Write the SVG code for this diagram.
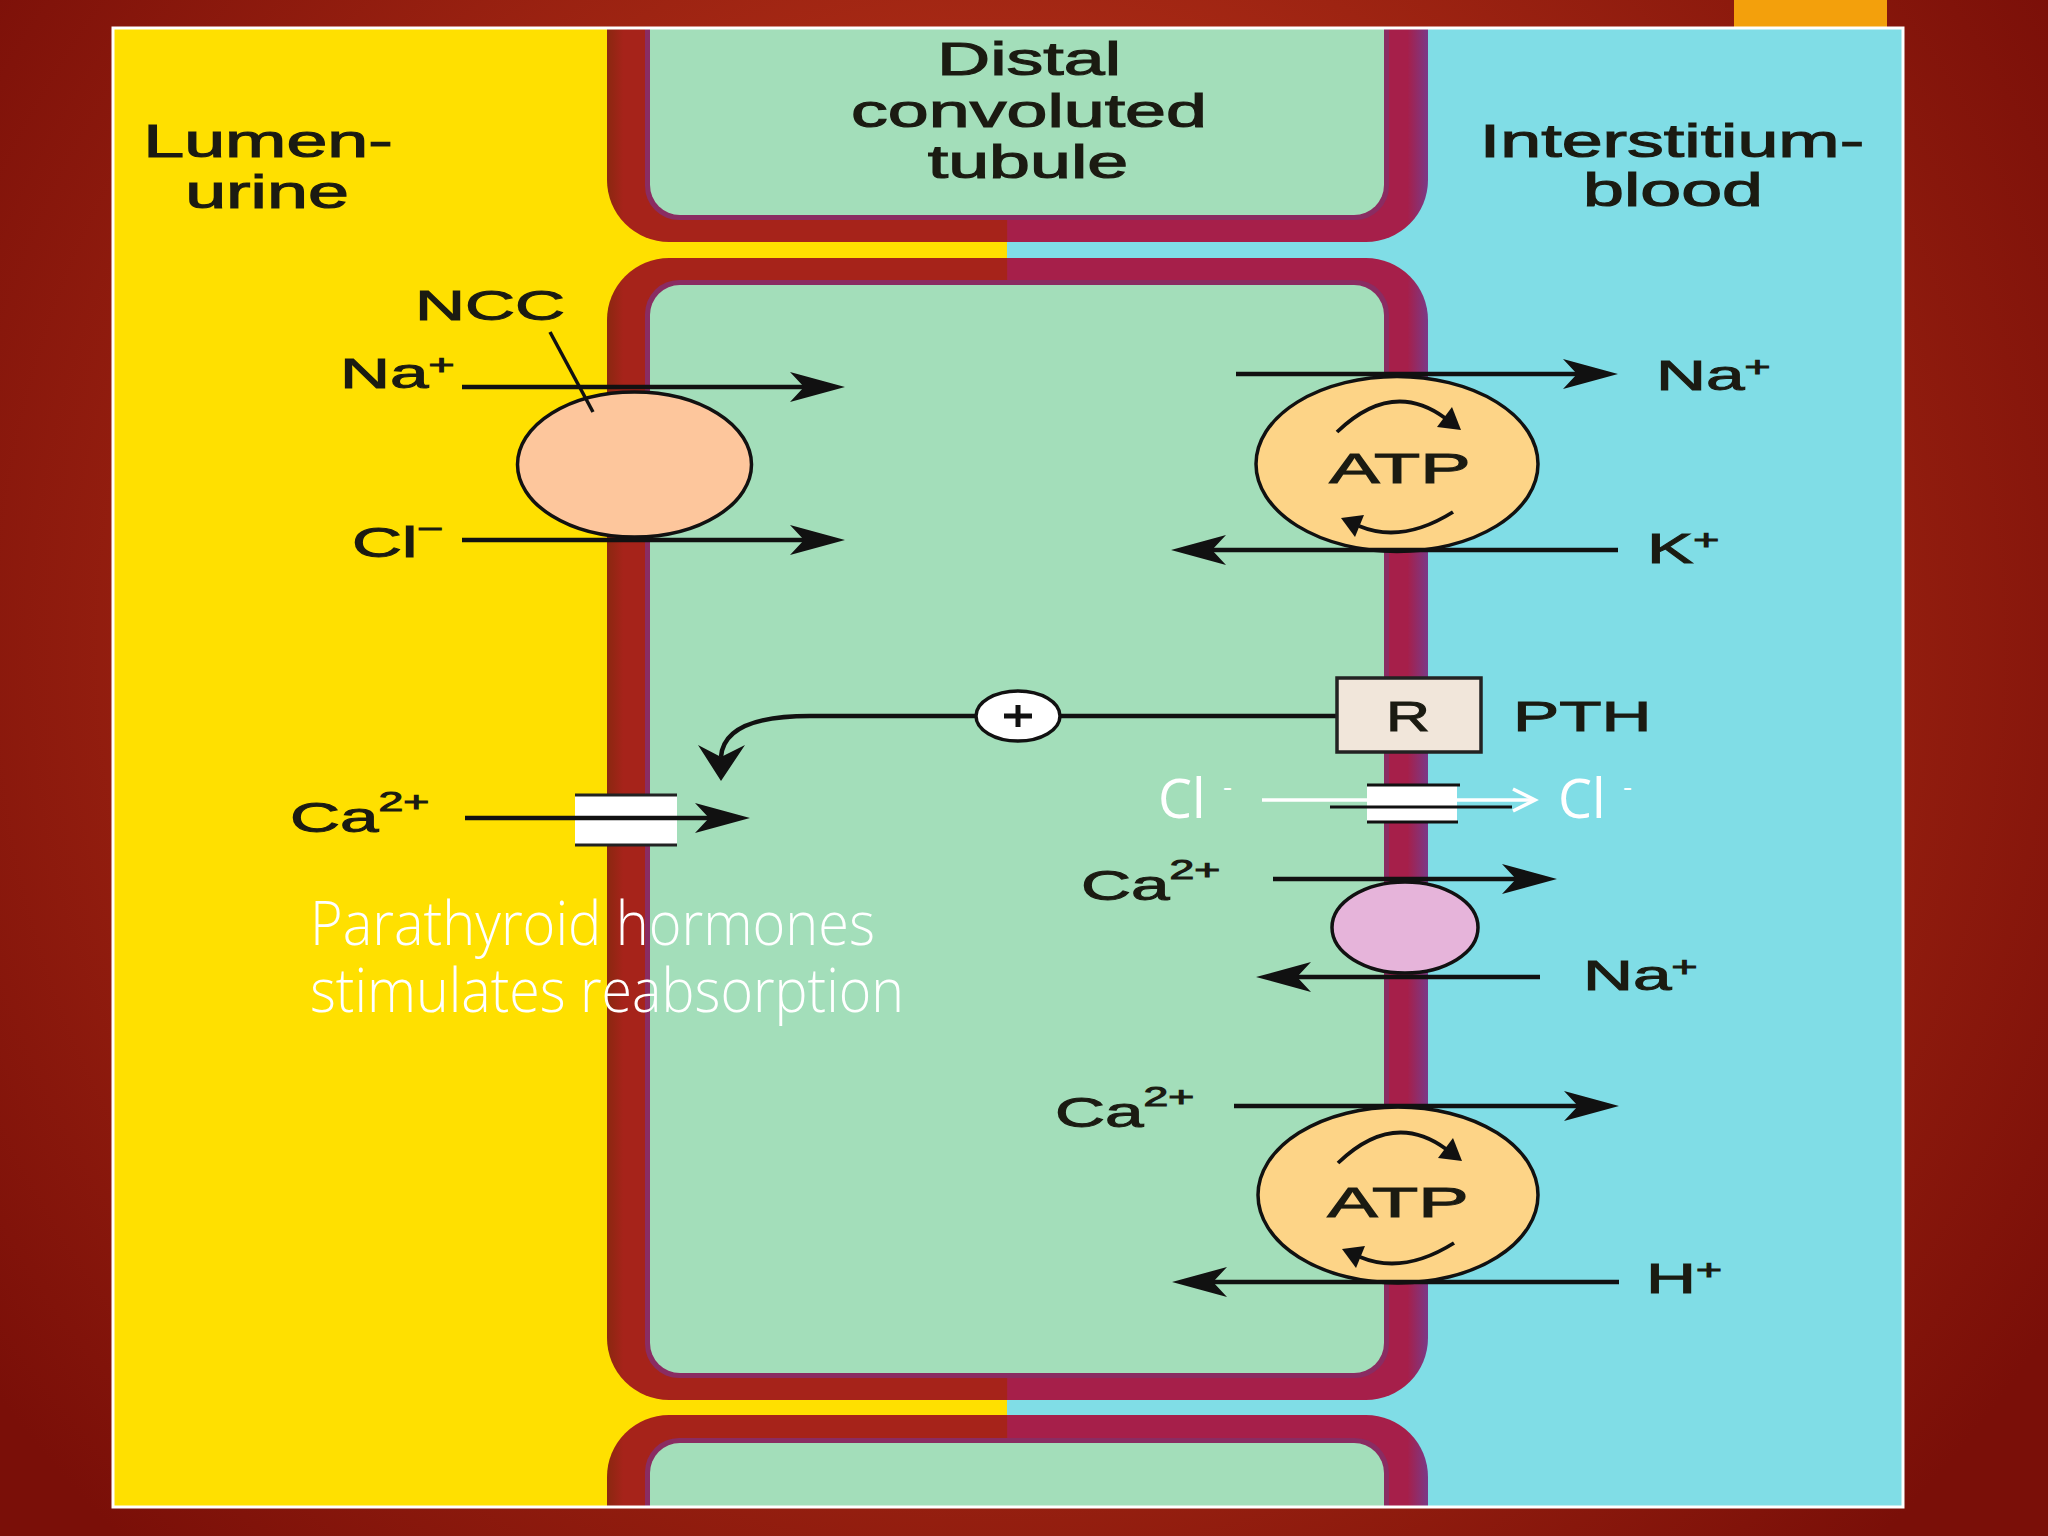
<svg xmlns="http://www.w3.org/2000/svg" width="2048" height="1536" viewBox="0 0 2048 1536">
<defs>
<style>
.lbl{font-family:"Liberation Sans",Arial,Helvetica,sans-serif;font-size:42px;fill:#1b1b12;stroke:#1b1b12;stroke-width:1}
.hdr{font-family:"Liberation Sans",Arial,Helvetica,sans-serif;font-size:46px;fill:#1b1b12;stroke:#1b1b12;stroke-width:1.1;text-anchor:middle}
.sup{font-size:27px}
.ln{stroke:#111;stroke-width:4.5;fill:none}
.ar{stroke:#111;stroke-width:4.5;fill:none;marker-end:url(#ah)}
.arc{stroke:#111;stroke-width:3.8;fill:none}
.ol{stroke:#111;stroke-width:3.5}
.wt{font-family:"Open Sans","Noto Sans",sans-serif;font-weight:300;fill:#fff}
.green{fill:#a3deba}
.mem{fill:url(#mem)}
.fringe{fill:#8a2c62}
</style>
<radialGradient id="bg" gradientUnits="userSpaceOnUse" cx="1000" cy="650" r="1250">
<stop offset="0" stop-color="#b8341b"/>
<stop offset="0.5" stop-color="#a52814"/>
<stop offset="1" stop-color="#7a0f08"/>
</radialGradient>
<linearGradient id="mem" gradientUnits="userSpaceOnUse" x1="607" y1="0" x2="1428" y2="0">
<stop offset="0" stop-color="#8a2810"/>
<stop offset="0.02" stop-color="#a6231a"/>
<stop offset="0.487" stop-color="#a6231a"/>
<stop offset="0.488" stop-color="#a61f4a"/>
<stop offset="0.975" stop-color="#a61f4a"/>
<stop offset="1" stop-color="#7a3a88"/>
</linearGradient>
<clipPath id="clipPanel"><rect x="113" y="28" width="1790" height="1479"/></clipPath>
<marker id="ah" markerUnits="userSpaceOnUse" viewBox="-60 -18 62 36" refX="-30" refY="0" markerWidth="62" markerHeight="36" orient="auto">
<path d="M0,0 L-55,-15 L-41,0 L-55,15 Z" fill="#111"/>
</marker>
<marker id="ahw" markerUnits="userSpaceOnUse" viewBox="-26 -14 30 28" refX="0" refY="0" markerWidth="30" markerHeight="28" orient="auto">
<path d="M-22,-11 L0,0 L-22,11" fill="none" stroke="#fff" stroke-width="3.5"/>
</marker>
</defs>

<rect x="0" y="0" width="2048" height="1536" fill="url(#bg)"/>
<rect x="1734" y="0" width="153" height="28" fill="#f3a00c"/>

<g id="panel" clip-path="url(#clipPanel)">
<rect x="113" y="28" width="894" height="1479" fill="#ffe000"/>
<rect x="1007" y="28" width="896" height="1479" fill="#80dde6"/>
<g id="cell-top">
<rect class="mem" x="607" y="-200" width="821" height="442" rx="62" ry="62"/>
<rect class="fringe" x="645" y="-200" width="744" height="420" rx="34" ry="34"/>
<rect class="green" x="650" y="-200" width="734" height="415" rx="30" ry="30"/>
</g>
<g id="cell-middle">
<rect class="mem" x="607" y="258" width="821" height="1142" rx="62" ry="62"/>
<rect class="fringe" x="645" y="280" width="744" height="1098" rx="34" ry="34"/>
<rect class="green" x="650" y="285" width="734" height="1088" rx="30" ry="30"/>
</g>
<g id="cell-bottom">
<rect class="mem" x="607" y="1415" width="821" height="400" rx="62" ry="62"/>
<rect class="fringe" x="645" y="1438" width="744" height="400" rx="34" ry="34"/>
<rect class="green" x="650" y="1443" width="734" height="400" rx="30" ry="30"/>
</g>
</g>
<rect x="113" y="28" width="1790" height="1479" fill="none" stroke="#fff" stroke-width="3"/>

<g id="headers">
<text class="hdr" transform="translate(1029,75) scale(1.6,1)">Distal</text>
<text class="hdr" transform="translate(1029,127) scale(1.6,1)">convoluted</text>
<text class="hdr" transform="translate(1028,178) scale(1.6,1)">tubule</text>
<text class="hdr" transform="translate(268,157) scale(1.6,1)">Lumen-</text>
<text class="hdr" transform="translate(267,208) scale(1.6,1)">urine</text>
<text class="hdr" transform="translate(1672,157) scale(1.6,1)">Interstitium-</text>
<text class="hdr" transform="translate(1673,206) scale(1.6,1)">blood</text>
</g>

<g id="ncc">
<ellipse cx="634.5" cy="464.5" rx="117" ry="72.5" fill="#fdc69c" class="ol"/>
<text class="lbl" transform="translate(415,320) scale(1.65,1)">NCC</text>
</g>

<g id="nak-atpase" transform="translate(1397,464)">
<ellipse cx="0" cy="0" rx="141" ry="87.5" fill="#fdd487" class="ol"/>
<path class="arc" d="M-60,-32 Q-5,-85 48,-46"/>
<polygon points="64,-34 40,-37 55,-57" fill="#111"/>
<path class="arc" d="M56,48 Q5,80 -38,62"/>
<polygon points="-56,54 -33,51 -42,73" fill="#111"/>
<text class="lbl" font-size="40" text-anchor="middle" transform="translate(3,19) scale(1.8,1)">ATP</text>
</g>

<g id="ca-atpase" transform="translate(1398,1195)">
<ellipse cx="0" cy="0" rx="140" ry="88" fill="#fdd487" class="ol"/>
<path class="arc" d="M-60,-32 Q-5,-85 48,-46"/>
<polygon points="64,-34 40,-37 55,-57" fill="#111"/>
<path class="arc" d="M56,48 Q5,80 -38,62"/>
<polygon points="-56,54 -33,51 -42,73" fill="#111"/>
<text class="lbl" font-size="40" text-anchor="middle" transform="translate(0,22) scale(1.8,1)">ATP</text>
</g>

<g id="ncx">
<ellipse cx="1405" cy="927.5" rx="73" ry="45.5" fill="#e6b4da" class="ol"/>
</g>

<g id="ca-channel-apical">
<rect x="575" y="795" width="102" height="50" fill="#fff"/>
<line x1="575" y1="795" x2="677" y2="795" stroke="#222" stroke-width="3"/>
<line x1="575" y1="845" x2="677" y2="845" stroke="#222" stroke-width="3"/>
</g>

<g id="cl-channel-basolateral">
<rect x="1367" y="785" width="90" height="37" fill="#fff"/>
<line x1="1367" y1="785" x2="1460" y2="785" stroke="#111" stroke-width="3"/>
<line x1="1367" y1="822" x2="1458" y2="822" stroke="#111" stroke-width="3"/>
</g>

<g id="connectors">
<line class="ln" x1="550" y1="332" x2="593" y2="412" style="stroke-width:3.5"/>
<line class="ar" x1="462" y1="387" x2="815" y2="387"/>
<line class="ar" x1="462" y1="540" x2="815" y2="540"/>
<line class="ar" x1="1236" y1="374" x2="1588" y2="374"/>
<line class="ar" x1="1618" y1="550" x2="1201" y2="550"/>
<line class="ar" x1="465" y1="818" x2="720" y2="818"/>
<line class="ar" x1="1273" y1="879" x2="1527" y2="879"/>
<line class="ar" x1="1540" y1="977" x2="1286" y2="977"/>
<line class="ar" x1="1234" y1="1106" x2="1589" y2="1106"/>
<line class="ar" x1="1619" y1="1282" x2="1202" y2="1282"/>
<path class="ln" d="M1340,716 H810 Q724,716 721,757"/>
<path d="M721,781 L698,745 L721,757 L745,745 Z" fill="#111"/>
<line x1="1330" y1="807" x2="1512" y2="807" stroke="#111" stroke-width="3"/>
<line x1="1262" y1="800" x2="1535" y2="800" stroke="#fff" stroke-width="3.5" marker-end="url(#ahw)"/>
</g>

<g id="plus">
<ellipse cx="1018" cy="716" rx="42" ry="25" fill="#fff" class="ol"/>
<line x1="1004" y1="716" x2="1032" y2="716" stroke="#111" stroke-width="5"/>
<line x1="1018" y1="705" x2="1018" y2="727" stroke="#111" stroke-width="5"/>
</g>

<g id="receptor">
<rect x="1337" y="678" width="144" height="74" fill="#f1e6da" stroke="#222" stroke-width="3.5"/>
<text class="lbl" text-anchor="middle" transform="translate(1408,731) scale(1.45,1)">R</text>
</g>

<g id="labels">
<text class="lbl" transform="translate(340,388) scale(1.65,1)">Na<tspan class="sup" dy="-14">+</tspan></text>
<text class="lbl" transform="translate(352,557) scale(1.65,1)">Cl<tspan class="sup" dy="-19">−</tspan></text>
<text class="lbl" transform="translate(290,832) scale(1.65,1)">Ca<tspan class="sup" dy="-21">2+</tspan></text>
<text class="lbl" transform="translate(1656,390) scale(1.65,1)">Na<tspan class="sup" dy="-14">+</tspan></text>
<text class="lbl" transform="translate(1647,563) scale(1.65,1)">K<tspan class="sup" dy="-14">+</tspan></text>
<text class="lbl" transform="translate(1513,731) scale(1.65,1)">PTH</text>
<text class="lbl" transform="translate(1081,900) scale(1.65,1)">Ca<tspan class="sup" dy="-21">2+</tspan></text>
<text class="lbl" transform="translate(1583,990) scale(1.65,1)">Na<tspan class="sup" dy="-14">+</tspan></text>
<text class="lbl" transform="translate(1055,1127) scale(1.65,1)">Ca<tspan class="sup" dy="-21">2+</tspan></text>
<text class="lbl" transform="translate(1646,1293) scale(1.65,1)">H<tspan class="sup" dy="-14">+</tspan></text>
</g>

<g id="overlay-text">
<text class="wt" x="1158" y="818" font-size="54" style="font-weight:400">Cl<tspan font-size="28" dx="10" dy="-22"> -</tspan></text>
<text class="wt" x="1558" y="818" font-size="54" style="font-weight:400">Cl<tspan font-size="28" dx="10" dy="-22"> -</tspan></text>
<text class="wt" x="310" y="945" font-size="60" textLength="565" lengthAdjust="spacingAndGlyphs">Parathyroid hormones</text>
<text class="wt" x="310" y="1012" font-size="60" textLength="594" lengthAdjust="spacingAndGlyphs">stimulates reabsorption</text>
</g>
</svg>
